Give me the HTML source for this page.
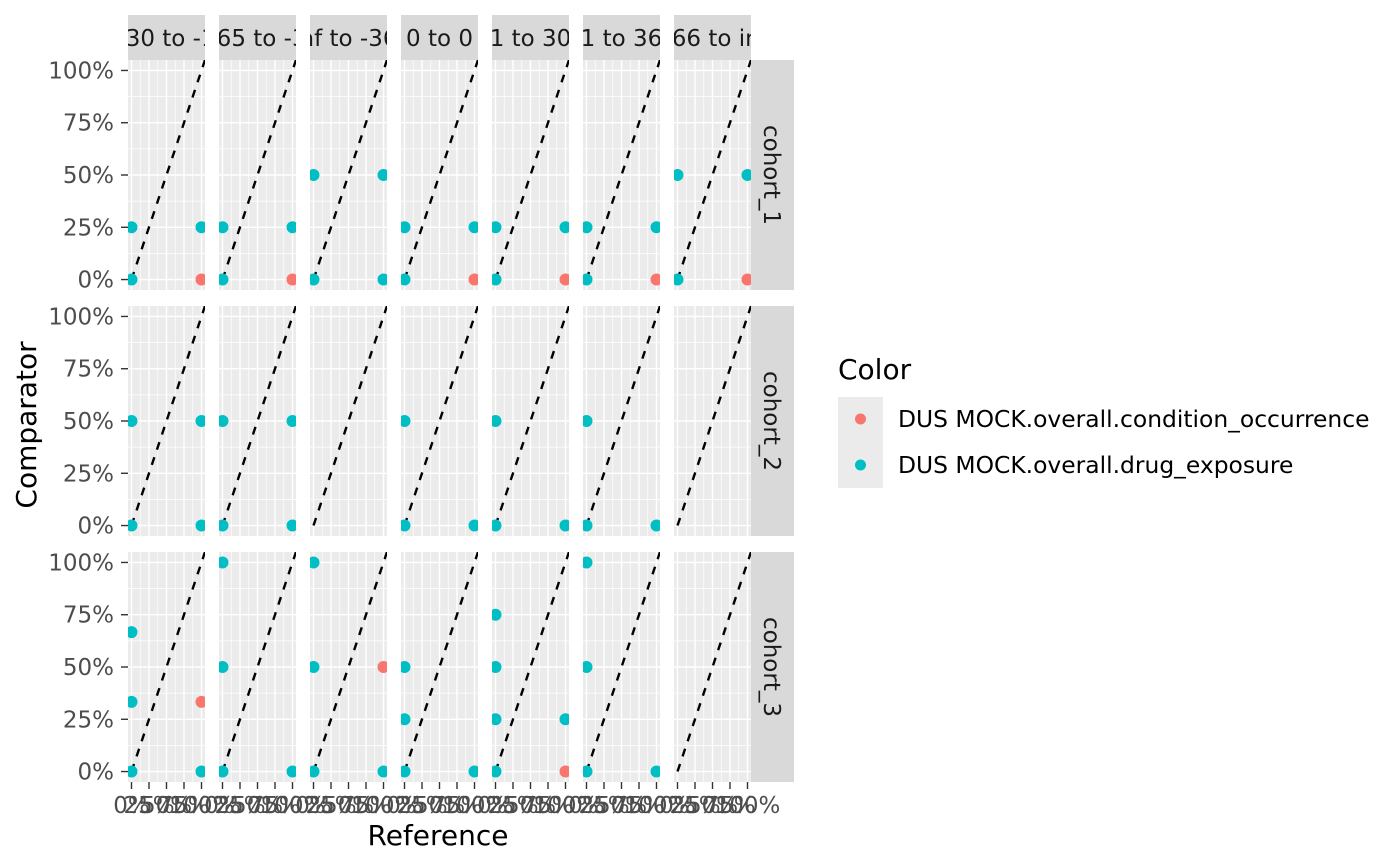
<!DOCTYPE html>
<html><head><meta charset="utf-8"><style>
html,body{margin:0;padding:0;background:#fff;}
svg{display:block;font-family:"DejaVu Sans","Liberation Sans",sans-serif;}
</style></head><body>
<svg id="chart" width="1400" height="866" viewBox="0 0 1400 866" xmlns="http://www.w3.org/2000/svg">
<g id="panels"></g>
<text x="438" y="845" font-size="28" text-anchor="middle" fill="#000">Reference</text>
<text transform="translate(36,425) rotate(-90)" font-size="28" text-anchor="middle" fill="#000">Comparator</text>
<g>
<text x="838" y="379" font-size="28" fill="#000">Color</text>
<rect x="838" y="397" width="45" height="91" fill="#EBEBEB"/>
<circle cx="860.5" cy="419" r="5.5" fill="#F8766D"/>
<circle cx="860.5" cy="465" r="5.5" fill="#00BFC4"/>
<text x="898" y="427" font-size="23.4" fill="#000">DUS MOCK.overall.condition_occurrence</text>
<text x="898" y="473" font-size="23.4" fill="#000">DUS MOCK.overall.drug_exposure</text>
</g>
</svg>
<script>
const colLabels = ["-30 to -1","-365 to -31","-inf to -366","0 to 0","1 to 30","31 to 365","366 to inf"];
const rowLabels = ["cohort_1","cohort_2","cohort_3"];
const tickValues = [0,25,50,75,100];
const tickLabels = ["0%","25%","50%","75%","100%"];
// points: [row, col, x%, y%, series] series 0=condition, 1=drug
const pointRow = [0,0,0,0, 0,0,0,0, 0,0,0,0, 0,0,0,0, 0,0,0,0, 0,0,0,0, 0,0,0,0,
 1,1,1,1, 1,1,1,1, 1,1,1, 1,1,1, 1,1,1,
 2,2,2,2,2, 2,2,2,2, 2,2,2,2,2, 2,2,2,2, 2,2,2,2,2,2, 2,2,2,2];
const pointCol = [0,0,0,0, 1,1,1,1, 2,2,2,2, 3,3,3,3, 4,4,4,4, 5,5,5,5, 6,6,6,6,
 0,0,0,0, 1,1,1,1, 3,3,3, 4,4,4, 5,5,5,
 0,0,0,0,0, 1,1,1,1, 2,2,2,2,2, 3,3,3,3, 4,4,4,4,4,4, 5,5,5,5];
const pointX = [0,0,100,100, 0,0,100,100, 0,100,0,100, 0,0,100,100, 0,0,100,100, 0,0,100,100, 0,100,0,100,
 0,0,100,100, 0,0,100,100, 0,0,100, 0,0,100, 0,0,100,
 0,0,0,100,100, 0,0,0,100, 0,0,0,100,100, 0,0,0,100, 0,0,0,0,100,100, 0,0,0,100];
const pointY = [25,0,25,0, 25,0,25,0, 50,50,0,0, 25,0,25,0, 25,0,25,0, 25,0,25,0, 50,50,0,0,
 50,0,50,0, 50,0,50,0, 50,0,0, 50,0,0, 50,0,0,
 66.7,33.3,0,0,33.3, 100,50,0,0, 100,50,0,0,50, 50,25,0,0, 75,50,25,0,25,0, 100,50,0,0];
const pointS = [1,1,1,0, 1,1,1,0, 1,1,1,1, 1,1,1,0, 1,1,1,0, 1,1,1,0, 1,1,1,0,
 1,1,1,1, 1,1,1,1, 1,1,1, 1,1,1, 1,1,1,
 1,1,1,1,0, 1,1,1,1, 1,1,1,1,0, 1,1,1,1, 1,1,1,1,1,0, 1,1,1,1];
const colors = ["#F8766D","#00BFC4"];

const NS="http://www.w3.org/2000/svg";
const root=document.getElementById('panels');
const PX0=128, PSTEP=91, PW=77, PY0=60, PYSTEP=246, PH=230;
function xs(c,v){return PX0+c*PSTEP+PW*(v+5)/110;}
function ys(r,v){return PY0+r*PYSTEP+PH-PH*(v+5)/110;}
function mk(tag,attrs,parent){const e=document.createElementNS(NS,tag);for(const k in attrs)e.setAttribute(k,attrs[k]);(parent||root).appendChild(e);return e;}
const defs=mk('defs',{});
for(let r=0;r<3;r++)for(let c=0;c<7;c++){
  const x0=PX0+c*PSTEP,y0=PY0+r*PYSTEP;
  const cp=mk('clipPath',{id:'cp'+r+'_'+c},defs);
  mk('rect',{x:x0,y:y0,width:PW,height:PH},cp);
  const g=mk('g',{'clip-path':'url(#cp'+r+'_'+c+')'});
  
  
  mk('rect',{x:x0,y:y0,width:PW,height:PH,fill:'#EBEBEB'},g);
  for(let i=0;i<tickValues.length-1;i++){
    const m=(tickValues[i]+tickValues[i+1])/2;
    mk('line',{x1:xs(c,m),x2:xs(c,m),y1:y0,y2:y0+PH,stroke:'#fff','stroke-width':0.7},g);
    mk('line',{x1:x0,x2:x0+PW,y1:ys(r,m),y2:ys(r,m),stroke:'#fff','stroke-width':0.7},g);
  }
  tickValues.forEach(v=>{
    mk('line',{x1:xs(c,v),x2:xs(c,v),y1:y0,y2:y0+PH,stroke:'#fff','stroke-width':1.4},g);
    mk('line',{x1:x0,x2:x0+PW,y1:ys(r,v),y2:ys(r,v),stroke:'#fff','stroke-width':1.4},g);
  });
  const dl=mk('line',{x1:xs(c,0),y1:ys(r,0),x2:xs(c,110),y2:ys(r,110),stroke:'#000','stroke-width':2.4,'stroke-dasharray':'8,8'},g);
  
  
  for(let i=0;i<pointX.length;i++){
    if(pointRow[i]!==r||pointCol[i]!==c)continue;
    const p=mk('circle',{cx:xs(c,pointX[i]),cy:ys(r,pointY[i]),r:6,fill:colors[pointS[i]]},g);
    
    
  }
}
// top strips
for(let c=0;c<7;c++){
  const x0=PX0+c*PSTEP;
  const cp=mk('clipPath',{id:'sc'+c},defs);
  mk('rect',{x:x0,y:15,width:PW,height:45},cp);
  const g=mk('g',{'clip-path':'url(#sc'+c+')'});
  
  
  mk('rect',{x:x0,y:15,width:PW,height:45,fill:'#D9D9D9'},g);
  const t=mk('text',{x:x0+PW/2,y:46,'font-size':23,'text-anchor':'middle',fill:'#1A1A1A'},g);
  t.textContent=colLabels[c];
}
// right strips
for(let r=0;r<3;r++){
  const y0=PY0+r*PYSTEP;
  const g=mk('g',{});
  
  
  mk('rect',{x:751,y:y0,width:43,height:PH,fill:'#D9D9D9'},g);
  const t=mk('text',{transform:'translate(764,'+(y0+PH/2)+') rotate(90)','font-size':23,'text-anchor':'middle',fill:'#1A1A1A'},g);
  t.textContent=rowLabels[r];
}
// y axes
for(let r=0;r<3;r++){
  tickValues.forEach((v,i)=>{
    const y=ys(r,v);
    mk('line',{x1:121,x2:128,y1:y,y2:y,stroke:'#333','stroke-width':1.4});
    const t=mk('text',{x:114,y:y+8,'font-size':23,'text-anchor':'end',fill:'#4D4D4D'});
    
    
    t.textContent=tickLabels[i];
  });
}
// x axes
for(let c=0;c<7;c++){
  tickValues.forEach((v,i)=>{
    const x=xs(c,v);
    mk('line',{x1:x,x2:x,y1:782,y2:789,stroke:'#333','stroke-width':1.4});
    const t=mk('text',{x:x,y:813,'font-size':23,'text-anchor':'middle',fill:'#4D4D4D'});
    
    
    t.textContent=tickLabels[i];
  });
}
</script>
</body></html>
